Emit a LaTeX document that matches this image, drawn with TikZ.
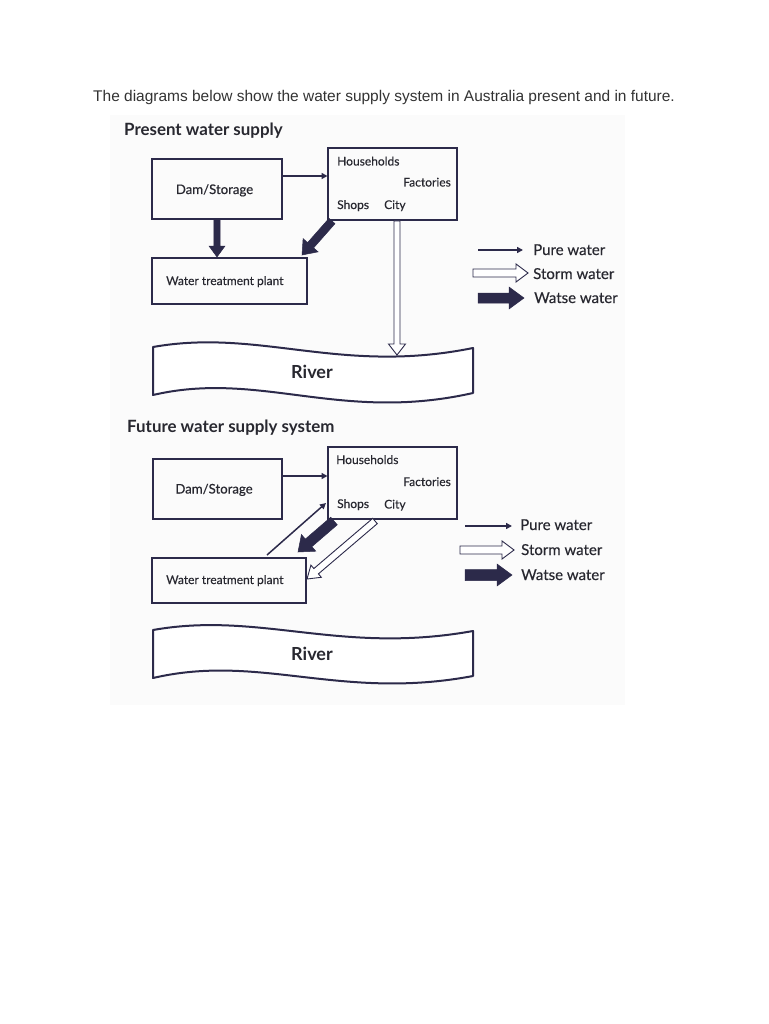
\documentclass[tikz,border=0pt]{standalone}
\usepackage{fontspec}
\setmainfont{Lato}
\newfontfamily\latomed[FakeBold=0.35]{Lato}
\newfontfamily\titlefont{Liberation Sans}
\usetikzlibrary{calc,arrows.meta}
\definecolor{navy}{RGB}{44,42,74}
\definecolor{txt}{RGB}{51,51,51}
\definecolor{dtxt}{RGB}{40,40,48}
\definecolor{bgfaint}{RGB}{251,251,251}
% block arrow polygon: #1 style, #2 from, #3 to, #4 shaft half width, #5 head half width, #6 head length
\newcommand\blockarrow[6]{%
  \coordinate (bacoord) at ($(#3)!#6!(#2)$);
  \draw[#1] ($(#2)!#4!90:(#3)$) -- ($(bacoord)!#4!90:(#3)$) -- ($(bacoord)!#5!90:(#3)$) -- (#3)
    -- ($(bacoord)!#5!-90:(#3)$) -- ($(bacoord)!#4!-90:(#3)$) -- ($(#2)!#4!-90:(#3)$) -- cycle;}
\begin{document}
\begin{tikzpicture}[x=1pt,y=-1pt,
  box/.style={draw=navy, line width=2pt, inner sep=0pt},
  lbl/.style={font=\latomed\fontsize{12}{14}\selectfont, text=dtxt, inner sep=0pt},
  boxlbl/.style={font=\latomed\fontsize{13.2}{15}\selectfont, text=dtxt, inner sep=0pt},
  head/.style={font=\bfseries\fontsize{16.9}{19}\selectfont, text=dtxt, inner sep=0pt, anchor=base west},
  legtxt/.style={font=\latomed\fontsize{15}{17}\selectfont, text=dtxt, inner sep=0pt, anchor=base west},
  rivertxt/.style={font=\bfseries\fontsize{18}{20}\selectfont, text=dtxt, inner sep=0pt, anchor=base},
  pure/.style={draw=navy, line width=1.5pt, -{Triangle[length=6pt,width=6pt]}},
  storm/.style={draw=navy, line width=0.9pt, fill=white, line join=miter},
  waste/.style={draw=navy, line width=0.5pt, fill=navy},
  riverline/.style={draw=navy, line width=2pt, fill=white, line join=round}]
\useasboundingbox (0,0) rectangle (768,1024);
\fill[bgfaint] (110,115) rectangle (625,705);

% title
\node[font=\titlefont\fontsize{15.48}{18}\selectfont, text=txt, inner sep=0pt, anchor=base west] (title) at (93,101.5)
  {The diagrams below show the water supply system in Australia present and in future.};

% ================= PRESENT =================
\node[head] (head1) at (124,136) {Present water supply};
\node[box, minimum width=130pt, minimum height=60pt] (dam1) at (217,189) {};
\node[boxlbl, anchor=base] (damt1) at (214.5,194) {Dam/Storage};
\node[box, minimum width=129pt, minimum height=72pt] (hh1) at (392.5,184) {};
\node[lbl, anchor=base west] (hht1) at (337,165.5) {Households};
\node[lbl, anchor=base east] (fac1) at (451,186.5) {Factories};
\node[lbl, anchor=base west] (shop1) at (337,209) {Shops};
\node[lbl, anchor=base west] (city1) at (384,209) {City};
\node[box, minimum width=155pt, minimum height=46pt] (wtp1) at (229.5,281) {};
\node[lbl, anchor=base west] (wtpt1) at (166,285) {Water treatment plant};

% river present
\draw[riverline] (153,347) .. controls (260,328) and (340,375) .. (473,348) -- (473,393)
  .. controls (340,423) and (260,370) .. (153,395) -- cycle;
\node[rivertxt] (river1) at (312,378) {River};

% arrows present
\coordinate (a1s) at (282,176); \coordinate (a1e) at (327.5,176);
\draw[pure] (a1s) -- (a1e);
\coordinate (a2s) at (217,220); \coordinate (a2e) at (217,257);
\blockarrow{waste}{a2s}{a2e}{3.2pt}{8pt}{11pt}
\coordinate (a3s) at (332,221); \coordinate (a3e) at (302,255);
\blockarrow{waste}{a3s}{a3e}{4pt}{10pt}{13pt}
\coordinate (a4s) at (397,221); \coordinate (a4e) at (397,355);
\blockarrow{storm}{a4s}{a4e}{3pt}{8.5pt}{11pt}

% legend present
\coordinate (l1a) at (478,250); \coordinate (l1b) at (523,250);
\draw[pure] (l1a) -- (l1b);
\node[legtxt] (lt1) at (533,255) {Pure water};
\coordinate (l2a) at (473,273); \coordinate (l2b) at (528,273);
\blockarrow{storm}{l2a}{l2b}{4pt}{9pt}{12pt}
\node[legtxt] (lt2) at (533,279) {Storm water};
\coordinate (l3a) at (478,298); \coordinate (l3b) at (524,298);
\blockarrow{waste}{l3a}{l3b}{5pt}{11pt}{15pt}
\node[legtxt] (lt3) at (534,303) {Watse water};

% ================= FUTURE =================
\node[head] (head2) at (127,432) {Future water supply system};
\node[box, minimum width=129pt, minimum height=60pt] (dam2) at (217.5,489) {};
\node[boxlbl, anchor=base] (damt2) at (214,493.5) {Dam/Storage};
\node[box, minimum width=129pt, minimum height=72pt] (hh2) at (392.5,483) {};
\node[lbl, anchor=base west] (hht2) at (336,464) {Households};
\node[lbl, anchor=base east] (fac2) at (451,486) {Factories};
\node[lbl, anchor=base west] (shop2) at (337,508) {Shops};
\node[lbl, anchor=base west] (city2) at (384,508.5) {City};
\node[box, minimum width=154pt, minimum height=45pt] (wtp2) at (229,580.5) {};
\node[lbl, anchor=base west] (wtpt2) at (166,584) {Water treatment plant};

% river future
\begin{scope}[shift={(0,283)}]
\draw[riverline] (153,347) .. controls (260,328) and (340,372) .. (473,348) -- (473,393)
  .. controls (340,418) and (260,370) .. (153,395) -- cycle;
\end{scope}
\node[rivertxt] (river2) at (312,660) {River};

% arrows future
\coordinate (b1s) at (282,476); \coordinate (b1e) at (327.5,476);
\draw[pure] (b1s) -- (b1e);
\coordinate (b2s) at (267,555); \coordinate (b2e) at (326,503);
\draw[pure] (b2s) -- (b2e);
\coordinate (b3s) at (334,521); \coordinate (b3e) at (298,552);
\blockarrow{waste}{b3s}{b3e}{5pt}{11pt}{14pt}
\coordinate (b4s) at (375,521); \coordinate (b4e) at (307,579);
\blockarrow{storm}{b4s}{b4e}{3.5pt}{8pt}{12pt}

% legend future
\coordinate (m1a) at (465,526); \coordinate (m1b) at (512,526);
\draw[pure] (m1a) -- (m1b);
\node[legtxt] (mt1) at (520,530) {Pure water};
\coordinate (m2a) at (460,550); \coordinate (m2b) at (514,550);
\blockarrow{storm}{m2a}{m2b}{4pt}{9pt}{12pt}
\node[legtxt] (mt2) at (521,555) {Storm water};
\coordinate (m3a) at (465,575); \coordinate (m3b) at (512,575);
\blockarrow{waste}{m3a}{m3b}{5.5pt}{11pt}{15pt}
\node[legtxt] (mt3) at (521,580) {Watse water};
\end{tikzpicture}
\end{document}
